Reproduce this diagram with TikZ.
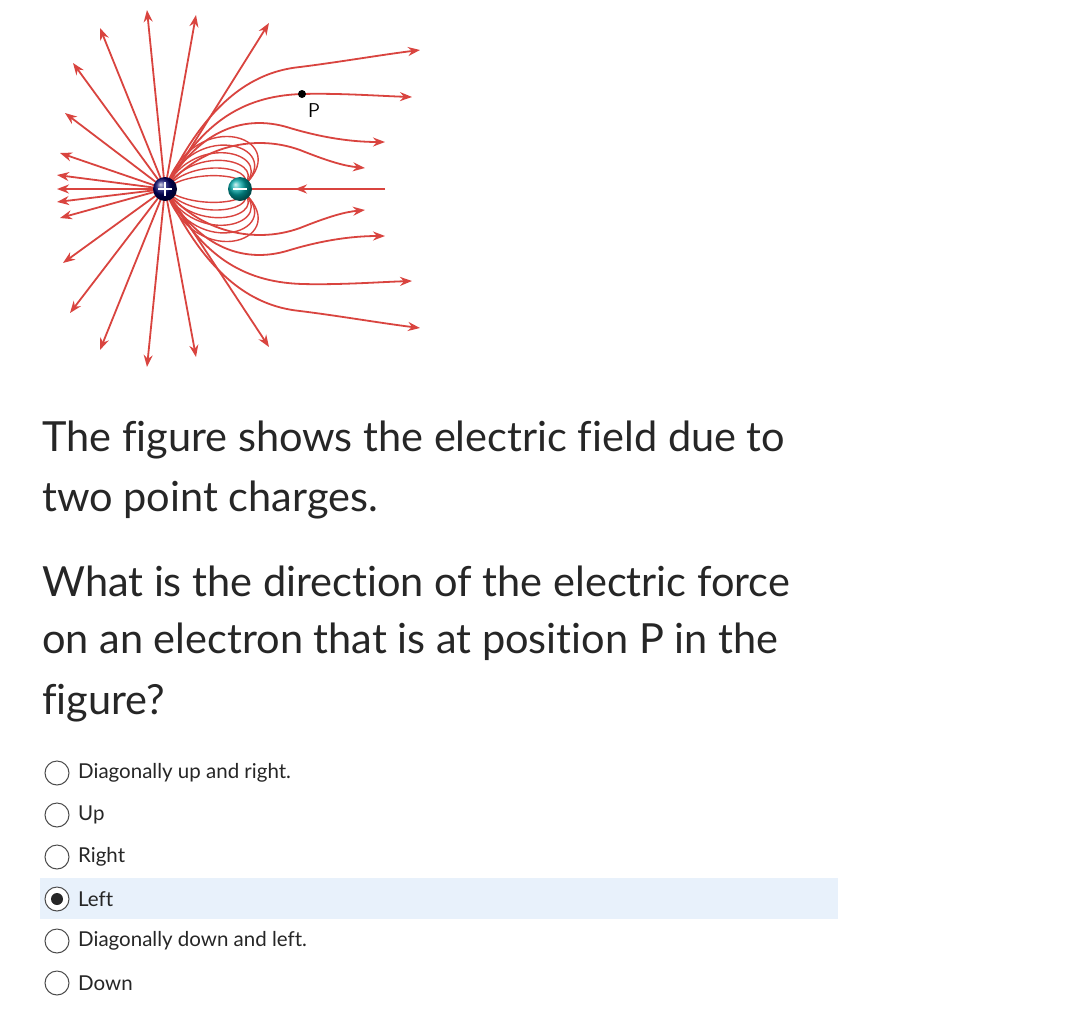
\documentclass[tikz,border=0pt]{standalone}
\usepackage{fontspec}
\setmainfont[Ligatures=NoCommon]{Lato}
\usetikzlibrary{arrows.meta,decorations.markings}
\definecolor{fl}{HTML}{D9443F}
\definecolor{hl}{HTML}{E8F1FB}
\tikzset{
 fline/.style={draw=fl,line width=1.8pt,-{Stealth[length=12pt,width=9pt]}},
 loopline/.style={draw=fl,line width=1.4pt},
 qtext/.style={anchor=west,font=\fontsize{41.5}{41.5}\selectfont,text=black!85,inner sep=0},
 otext/.style={anchor=west,font=\fontsize{20.5}{20.5}\selectfont,text=black!85,inner sep=0},
 radio/.style={circle,draw=black!70,line width=1pt,minimum size=24pt,inner sep=0,fill=white},
}
\begin{document}
\begin{tikzpicture}[x=1pt,y=-1pt]
\useasboundingbox (0,0) rectangle (1080,1010);
\fill[white] (0,0) rectangle (1080,1010);
\coordinate (pos) at (165,189);
\coordinate (neg) at (240,189);
% radial lines
\foreach \ex/\ey in {147/10,196/15,269/23,100/28,73/63,65/113,60/153,57/175,57/189,57/202,60/218,63/263,70/313,100/350,147/367,196/357,269/347}
  \draw[fline] (pos) -- (\ex,\ey);
% right side curves, mirrored
\foreach \s in {1,-1}{
\begin{scope}[yshift=189pt*(1-\s)*-1,yscale=\s]
\draw[fline] (pos) .. controls (205,105) and (250,72) .. (300,67) .. controls (340,62) and (380,55) .. (420,50);
\draw[fline] (pos) .. controls (200,125) and (240,96) .. (302,94) .. controls (340,93) and (380,96) .. (412,97);
\draw[fline] (pos) .. controls (195,135) and (240,112) .. (290,128) .. controls (330,140) and (360,142) .. (385,142);
\draw[fline] (pos) .. controls (195,150) and (250,132) .. (300,150) .. controls (330,162) and (345,166) .. (365,168);
\foreach \h/\w in {55/50,46/41,38/32,30/24,22/16,14/9}
  \draw[loopline] (pos) .. controls (195,189-1.6*\h) and (250+\w,189-0.9*\h) .. (neg);
\end{scope}}
\draw[fline,-] (385,189) -- (neg);
\draw[fl,line width=1.8pt,-{Stealth[length=12pt,width=9pt]}] (320,189) -- (295,189);
% charges
\shade[ball color=blue!40!black] (pos) circle (12);
\draw[white,line width=2.4pt] (158,189) -- (172,189) (165,182) -- (165,196);
\shade[ball color=teal!70!cyan] (neg) circle (12);
\draw[white,line width=2.4pt] (233,189) -- (247,189);
\node[circle,fill=black,inner sep=0,minimum size=8pt] (P) at (302,94) {};
\node[font=\sffamily\fontsize{20}{20}\selectfont] (Pl) at (314,111) {P};
% text
\node[qtext] (t1) at (42,440) {The figure shows the electric field due to};
\node[qtext] (t2) at (42,500) {two point charges.};
\node[qtext] (t3) at (42,581) {What is the direction of the electric force};
\node[qtext] (t4) at (42,642) {on an electron that is at position P in the};
\node[qtext] (t5) at (42,703) {figure?};
\fill[hl] (40,878) rectangle (838,919);
\foreach \y/\t [count=\i] in {773/Diagonally up and right.,815/Up,857/Right,899/Left,941/Diagonally down and left.,983/Down}{
  \node[radio] (r\i) at (57,\y) {};
  \node[otext] (o\i) at (78,\y) {\t};
}
\fill[black!85] (r4) circle (6);
\end{tikzpicture}
\end{document}
